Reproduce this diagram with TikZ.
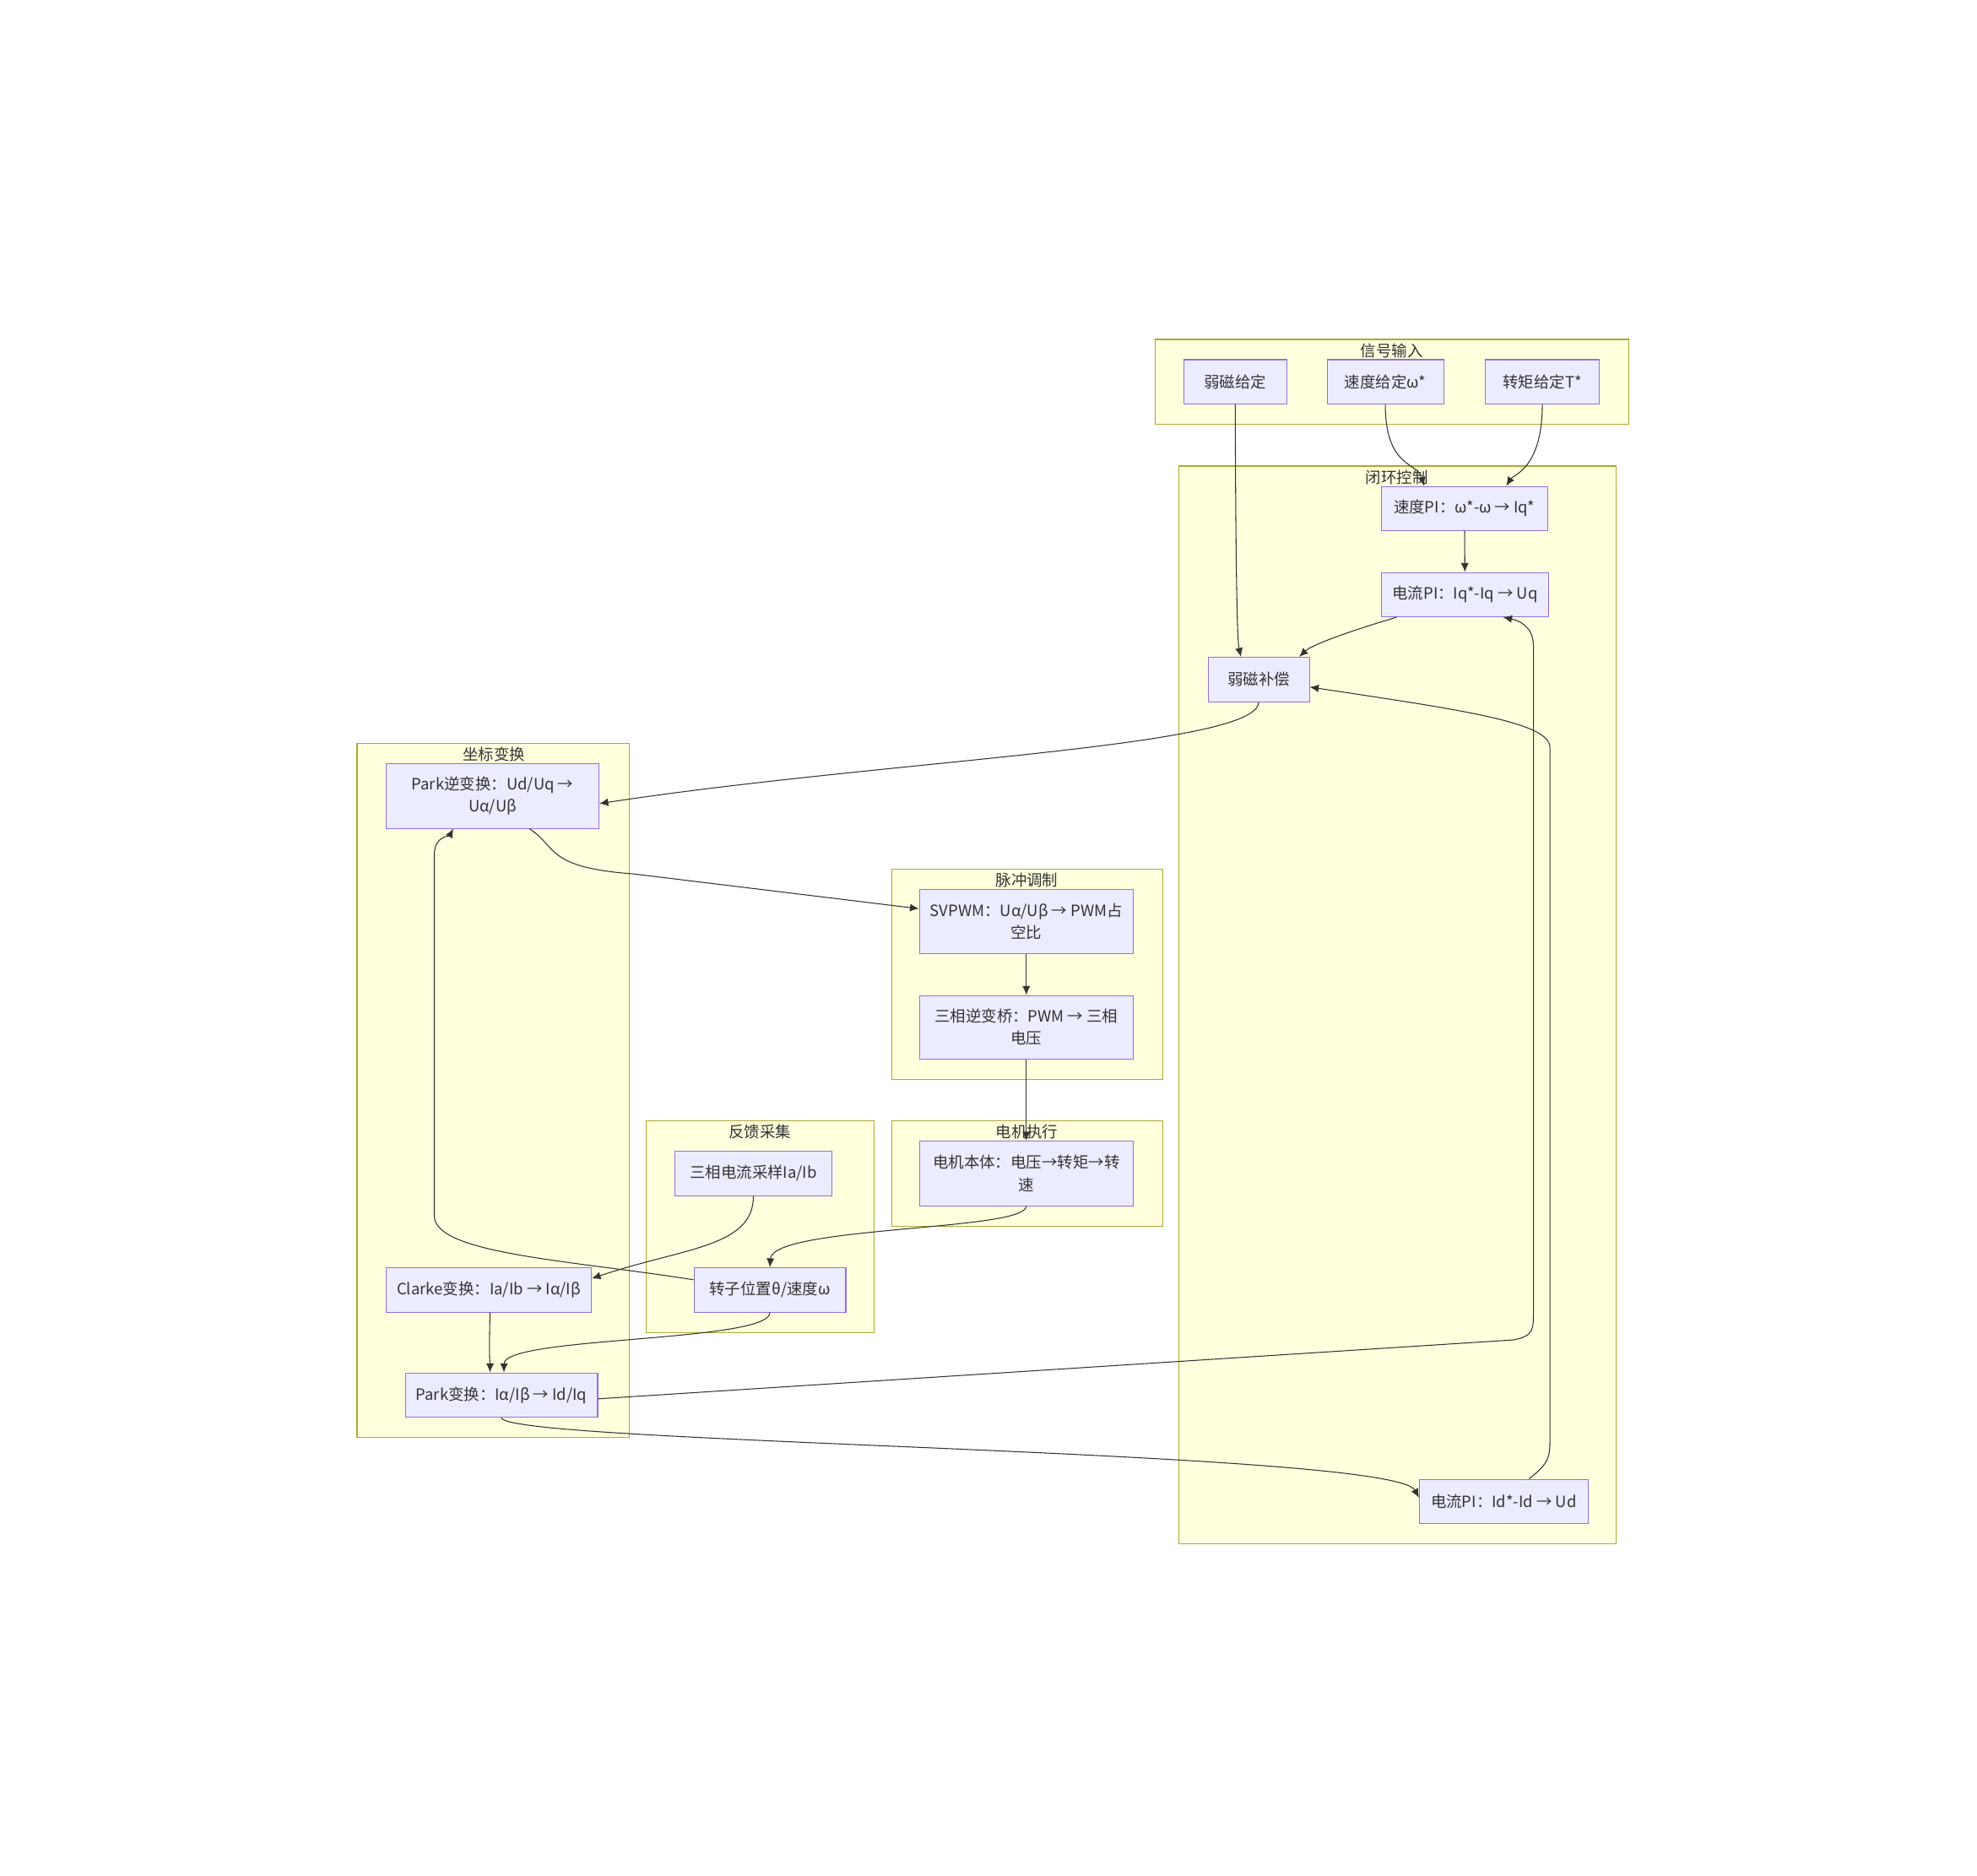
\documentclass[tikz,border=0pt]{standalone}
\usepackage{fontspec}
\setmainfont{Noto Sans CJK SC}
\usetikzlibrary{arrows.meta}
\definecolor{clfill}{HTML}{FFFFDE}
\definecolor{cldraw}{HTML}{AAAA33}
\definecolor{ndfill}{HTML}{ECECFF}
\definecolor{nddraw}{HTML}{9370DB}
\definecolor{edge}{HTML}{333333}
\tikzset{
  cluster/.style={fill=clfill,draw=cldraw,line width=0.4pt},
  ctitle/.style={font=\fontsize{7}{8}\selectfont,text=edge,anchor=north,inner sep=1pt},
  box/.style={fill=ndfill,draw=nddraw,line width=0.4pt,align=center,
    font=\fontsize{7}{10}\selectfont,text=edge,inner sep=0pt},
  flow/.style={draw=edge,line width=0.4pt,-{Latex[length=4pt,width=3.5pt]}}
}
\begin{document}
\begin{tikzpicture}[x=0.02cm,y=-0.02cm]
  \useasboundingbox (0,0) rectangle (1561.3,1480.7);
  % subgraphs
  \draw[cluster] (912,268) rectangle (1286,335);
  \node[ctitle] (tSig) at (1099,269) {信号输入};
  \draw[cluster] (931,368) rectangle (1276,1219);
  \node[ctitle] (tLoop) at (1103,369) {闭环控制};
  \draw[cluster] (282,587) rectangle (497,1135);
  \node[ctitle] (tCoord) at (390,588) {坐标变换};
  \draw[cluster] (704,686) rectangle (918,852);
  \node[ctitle] (tPwm) at (811,687) {脉冲调制};
  \draw[cluster] (510,885) rectangle (690,1052);
  \node[ctitle] (tFb) at (600,886) {反馈采集};
  \draw[cluster] (704,885) rectangle (918,968);
  \node[ctitle] (tMot) at (811,886) {电机执行};
  % nodes
  \node[box,minimum width=1.62cm,minimum height=0.7cm] (wfSet) at (975.5,301.5) {弱磁给定};
  \node[box,minimum width=1.84cm,minimum height=0.7cm] (spdSet) at (1094,301.5) {速度给定ω*};
  \node[box,minimum width=1.80cm,minimum height=0.7cm] (trqSet) at (1218,301.5) {转矩给定T*};
  \node[box,minimum width=2.62cm,minimum height=0.7cm] (spdPI) at (1156.5,401.5) {速度PI：ω*-ω → Iq*};
  \node[box,minimum width=2.64cm,minimum height=0.7cm] (iqPI) at (1157,469.5) {电流PI：Iq*-Iq → Uq};
  \node[box,minimum width=1.60cm,minimum height=0.7cm] (wfComp) at (994,536.5) {弱磁补偿};
  \node[box,minimum width=3.36cm,minimum height=1.02cm] (iPark) at (389,628.5) {Park逆变换：Ud/Uq →\\Uα/Uβ};
  \node[box,minimum width=3.38cm,minimum height=1.02cm] (svpwm) at (810.5,727.5) {SVPWM：Uα/Uβ → PWM占\\空比};
  \node[box,minimum width=3.38cm,minimum height=1.0cm] (bridge) at (810.5,811) {三相逆变桥：PWM → 三相\\电压};
  \node[box,minimum width=3.38cm,minimum height=1.02cm] (motor) at (810.5,926.5) {电机本体：电压→转矩→转\\速};
  \node[box,minimum width=2.48cm,minimum height=0.7cm] (sample) at (595,926.5) {三相电流采样Ia/Ib};
  \node[box,minimum width=3.24cm,minimum height=0.7cm] (clarke) at (386,1018.5) {Clarke变换：Ia/Ib → Iα/Iβ};
  \node[box,minimum width=2.40cm,minimum height=0.7cm] (rotor) at (608,1018.5) {转子位置θ/速度ω};
  \node[box,minimum width=3.04cm,minimum height=0.7cm] (park) at (396,1101.5) {Park变换：Iα/Iβ → Id/Iq};
  \node[box,minimum width=2.66cm,minimum height=0.7cm] (idPI) at (1187.5,1185.5) {电流PI：Id*-Id → Ud};
  % connectors
  \draw[flow] (spdSet.south) .. controls (1094,370) and (1120,365) .. ([xshift=-0.64cm]spdPI.north);
  \draw[flow] (trqSet.south) .. controls (1218,370) and (1195,375) .. ([xshift=0.66cm]spdPI.north);
  \draw[flow] (spdPI) -- (iqPI);
  \draw[flow] (wfSet.south) .. controls (976,500) and (978,510) .. ([xshift=-0.28cm]wfComp.north);
  \draw[flow] ([xshift=-1.08cm]iqPI.south) .. controls (1060,500) and (1035,510) .. ([xshift=0.64cm]wfComp.north);
  \draw[flow] (wfComp.south) .. controls (994,590) and (700,600) .. ([yshift=-0.12cm]iPark.east);
  \draw[flow] ([xshift=0.58cm]iPark.south) .. controls (440,668) and (430,685) .. (500,690) -- ([yshift=0.2cm]svpwm.west);
  \draw[flow] (svpwm) -- (bridge);
  \draw[flow] (bridge) -- (motor);
  \draw[flow] (motor.south) .. controls (811,972) and (610,968) .. (rotor.north);
  \draw[flow] (sample.south) .. controls (595,985) and (540,985) .. ([yshift=0.18cm]clarke.east);
  \draw[flow] ([yshift=0.16cm]rotor.west) .. controls (450,995) and (343,990) .. (343,960) -- (343,675) .. controls (343,660) and (355,660) .. ([xshift=-0.62cm]iPark.south);
  \draw[flow] ([xshift=0.02cm]clarke.south) .. controls (386,1075) and (387,1075) .. ([xshift=-0.18cm]park.north);
  \draw[flow] (rotor.south) .. controls (608,1060) and (398,1055) .. ([xshift=0.04cm]park.north);
  \draw[flow] ([yshift=-0.06cm]park.east) -- (1195,1058) .. controls (1211,1055) and (1211,1050) .. (1211,1035) -- (1211,510) .. controls (1211,495) and (1200,490) .. ([xshift=0.6cm]iqPI.south);
  \draw[flow] (park.south) .. controls (396,1140) and (1100,1145) .. ([yshift=0.06cm]idPI.west);
  \draw[flow] ([xshift=0.4cm]idPI.north) .. controls (1224,1155) and (1224,1150) .. (1224,1135) -- (1224,590) .. controls (1224,570) and (1150,560) .. ([yshift=-0.12cm]wfComp.east);
\end{tikzpicture}
\end{document}
